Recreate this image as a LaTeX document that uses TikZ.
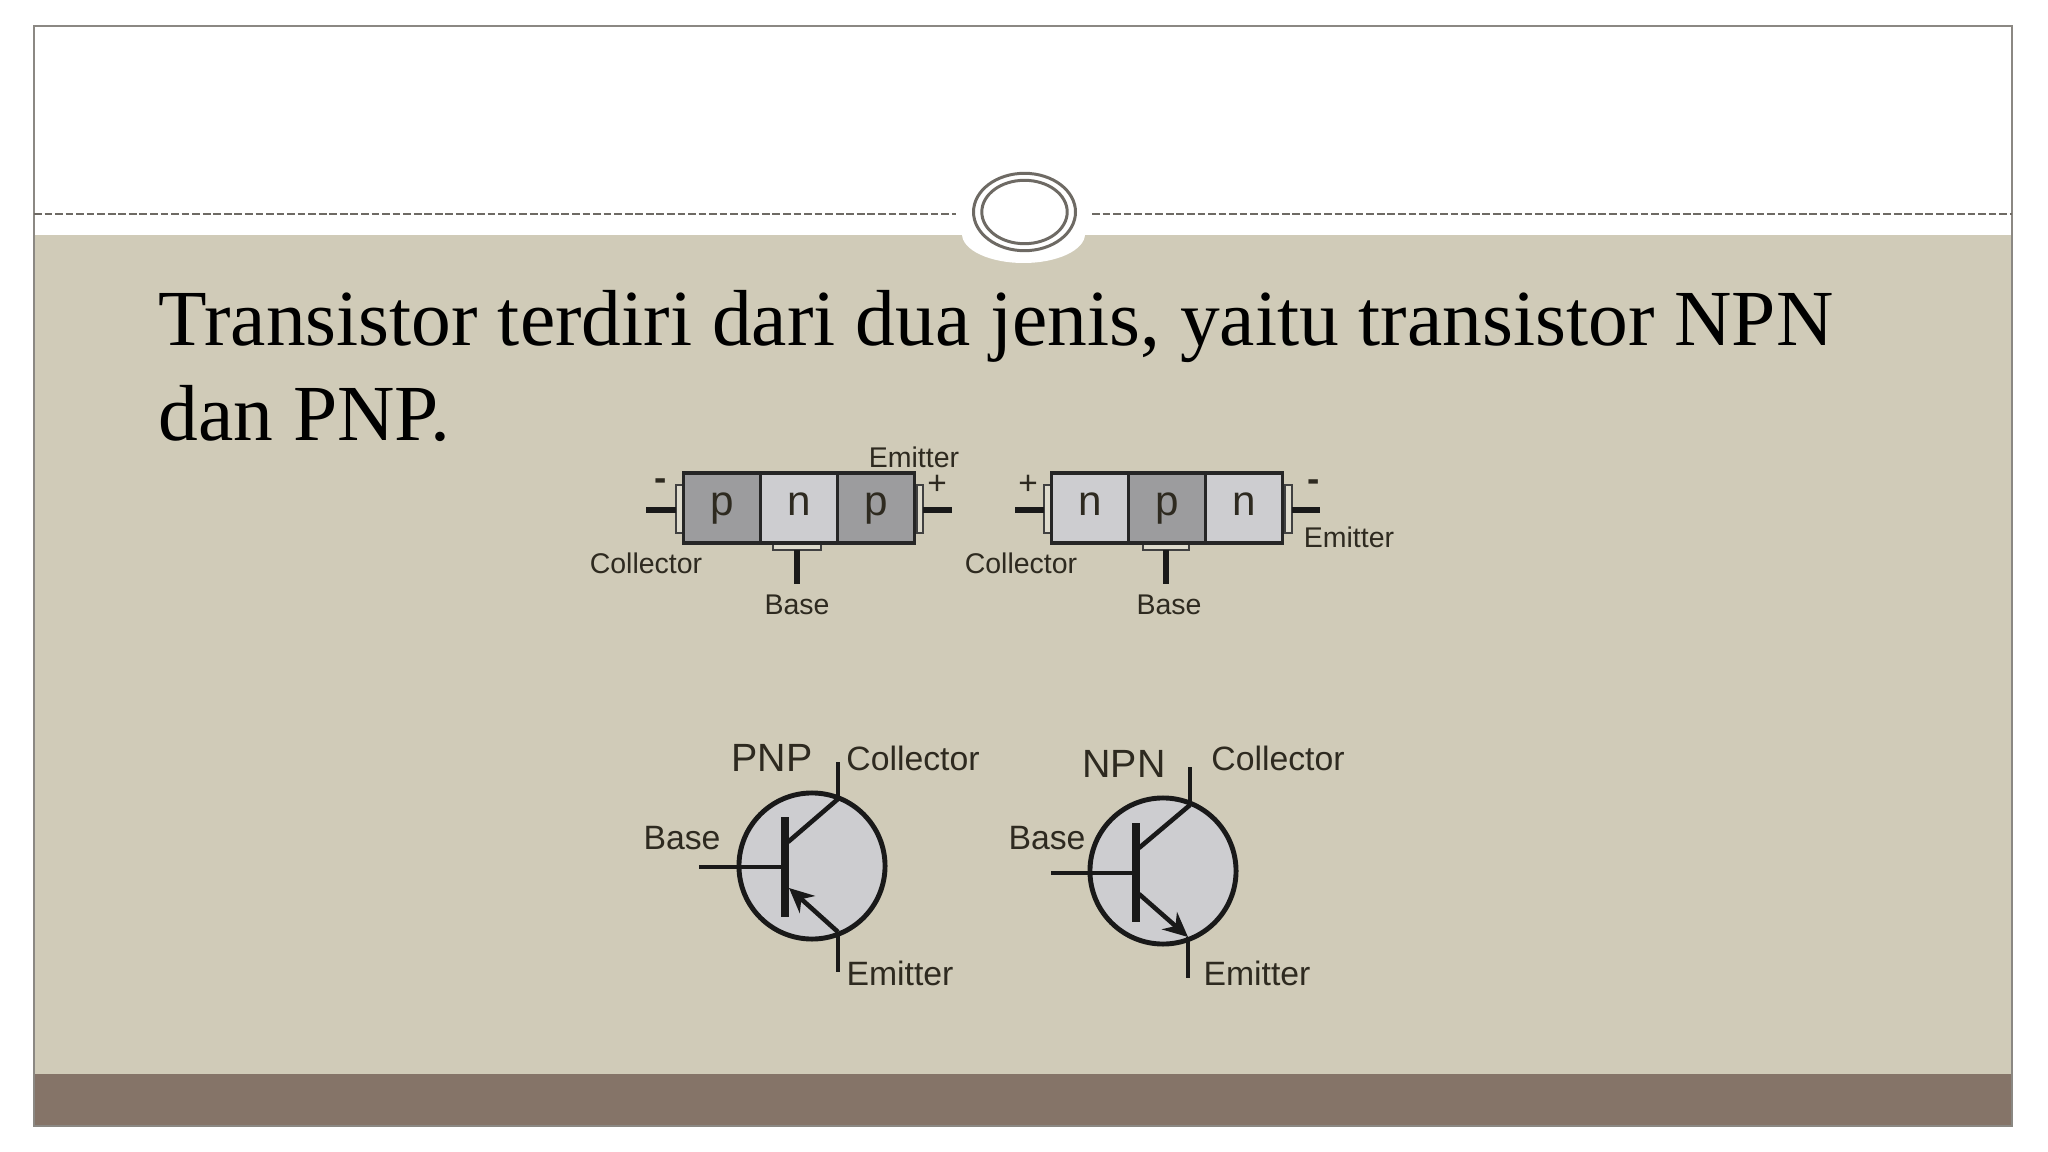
\documentclass[tikz,border=0pt]{standalone}
\usepackage{fontspec}
\setmainfont{Liberation Serif}
\setsansfont{Liberation Sans}
\usetikzlibrary{positioning, arrows.meta}
\definecolor{slidebg}{HTML}{D0CBB8}
\definecolor{slidefoot}{HTML}{857468}
\definecolor{slideline}{HTML}{6E6A64}
\definecolor{dopedark}{HTML}{9C9C9E}
\definecolor{dopelight}{HTML}{CDCDD0}
\definecolor{inktext}{HTML}{2E2A20}

\tikzset{
    segp/.style={draw=black!85, line width=1pt, fill=dopedark, minimum width=0.77cm, minimum height=0.70cm,
        inner sep=0pt, text height=6.3pt, text depth=2.3pt, text=inktext, font=\sffamily\fontsize{12}{13}\selectfont},
    segn/.style={segp, fill=dopelight},
    endcap/.style={draw=black!75, line width=0.8pt, fill=slidebg!70!white},
    lead/.style={line width=1.5pt, black!90},
    wire/.style={line width=1.3pt, black!90},
    bar/.style={line width=2.3pt, black!90},
    lbl/.style={text=inktext, inner sep=0pt, font=\sffamily\fontsize{8.1}{9}\selectfont},
    minuslbl/.style={text=inktext, inner sep=0pt, font=\sffamily\bfseries\fontsize{10.5}{11}\selectfont},
    pluslbl/.style={text=inktext, inner sep=0pt, font=\sffamily\fontsize{9.5}{10}\selectfont},
    biglbl/.style={text=inktext, inner sep=0pt, font=\sffamily\fontsize{9.6}{10}\selectfont},
    namelbl/.style={text=inktext, inner sep=0pt, font=\sffamily\fontsize{11.2}{12}\selectfont},
    disc/.style={circle, draw=black!90, line width=1.4pt, fill=dopelight, minimum size=1.46cm, inner sep=0pt},
    node distance=0.77cm
}

\begin{document}
\begin{tikzpicture}[x=0.01cm, y=-0.01cm]
    \useasboundingbox (0,0) rectangle (2048,1152);

    % slide
    \fill[white] (0,0) rectangle (2048,1152);
    \fill[slidebg] (34,235) rectangle (2012,1074);
    \fill[slidefoot] (34,1074) rectangle (2012,1126);
    \draw[slideline!80, line width=0.5pt] (34,26) rectangle (2012,1126);
    \fill[white] (962,234) arc[start angle=180, end angle=0, x radius=61.5, y radius=29] -- cycle;
    \draw[slideline, line width=0.4pt, dash pattern=on 2.2pt off 0.8pt] (34,214) -- (956,214);
    \draw[slideline, line width=0.4pt, dash pattern=on 2.2pt off 0.8pt] (1092,214) -- (2012,214);
    \draw[slideline, line width=0.85pt] (1024.5,212) ellipse [x radius=51, y radius=38.7];
    \draw[slideline, line width=0.85pt] (1024.5,212) ellipse [x radius=42.7, y radius=31.7];

    \node[anchor=north west, align=left, inner sep=0pt, text=black, font=\fontsize{22.6}{27}\selectfont] (title) at (158,290)
        {Transistor terdiri dari dua jenis, yaitu transistor NPN\\dan PNP.};

    % pnp block
    \draw[endcap] (676,485) rectangle (683,533);
    \draw[endcap] (917,485) rectangle (923,533);
    \draw[endcap] (773,543) rectangle (821,550);
    \node[segp] (a1) at (722,508) {p};
    \node[segn, right of=a1] (a2) {n};
    \node[segp, right of=a2] (a3) {p};
    \coordinate (a1l) at (676,510);
    \coordinate (a1e) at (646,510);
    \coordinate (a3r) at (923,510);
    \coordinate (a3e) at (952,510);
    \coordinate (a2b) at (797,550);
    \coordinate (a2e) at (797,584);
    \draw[lead] (a1l) -- (a1e);
    \draw[lead] (a3r) -- (a3e);
    \draw[lead] (a2b) -- (a2e);
    \node[lbl] (acol) at (646,563) {Collector};
    \node[lbl] (abase) at (797,605) {Base};
    \node[lbl] (aemi) at (914,457) {Emitter};
    \node[minuslbl] (aminus) at (661,485) {-};
    \node[pluslbl] (aplus) at (937,485) {+};

    % npn block
    \draw[endcap] (1044,485) rectangle (1052,533);
    \draw[endcap] (1285,485) rectangle (1292,533);
    \draw[endcap] (1143,543) rectangle (1189,550);
    \node[segn] (b1) at (1090,508) {n};
    \node[segp, right of=b1] (b2) {p};
    \node[segn, right of=b2] (b3) {n};
    \coordinate (b1l) at (1044,510);
    \coordinate (b1e) at (1015,510);
    \coordinate (b3r) at (1292,510);
    \coordinate (b3e) at (1320,510);
    \coordinate (b2b) at (1166,550);
    \coordinate (b2e) at (1166,584);
    \draw[lead] (b1l) -- (b1e);
    \draw[lead] (b3r) -- (b3e);
    \draw[lead] (b2b) -- (b2e);
    \node[lbl] (bcol) at (1021,563) {Collector};
    \node[lbl] (bbase) at (1169,605) {Base};
    \node[lbl] (bemi) at (1349,537) {Emitter};
    \node[pluslbl] (bplus) at (1028,485) {+};
    \node[minuslbl] (bminus) at (1314,486) {-};

    % pnp symbol
    \node[disc] (c) at (812,866) {};
    \coordinate (cb1) at (785,817);
    \coordinate (cb2) at (785,917);
    \coordinate (cbm) at (785,867);
    \coordinate (cbe) at (699,867);
    \coordinate (cc1) at (788,842);
    \coordinate (cc2) at (838,799);
    \coordinate (cc3) at (838,762);
    \coordinate (ce1) at (838,932);
    \coordinate (ce2) at (789,888);
    \coordinate (ce3) at (838,972);
    \draw[bar] (cb1) -- (cb2);
    \draw[wire] (cbe) -- (cbm);
    \draw[wire] (cc1) -- (cc2);
    \draw[wire] (cc2) -- (cc3);
    \draw[wire, -{Stealth[length=7pt, width=6.5pt]}] (ce1) -- (ce2);
    \draw[wire] (ce1) -- (ce3);
    \node[namelbl] (cname) at (772,758) {PNP};
    \node[biglbl] (ccol) at (913,758) {Collector};
    \node[biglbl] (cbase) at (682,838) {Base};
    \node[biglbl] (cemi) at (900,973) {Emitter};

    % npn symbol
    \node[disc] (d) at (1163,871) {};
    \coordinate (db1) at (1136,823);
    \coordinate (db2) at (1136,922);
    \coordinate (dbm) at (1136,873);
    \coordinate (dbe) at (1051,873);
    \coordinate (dc1) at (1139,848);
    \coordinate (dc2) at (1190,805);
    \coordinate (dc3) at (1190,767);
    \coordinate (de1) at (1139,894);
    \coordinate (de2) at (1188,937);
    \coordinate (de3) at (1188,978);
    \draw[bar] (db1) -- (db2);
    \draw[wire] (dbe) -- (dbm);
    \draw[wire] (dc1) -- (dc2);
    \draw[wire] (dc2) -- (dc3);
    \draw[wire, -{Stealth[length=7pt, width=6.5pt]}] (de1) -- (de2);
    \draw[wire] (de2) -- (de3);
    \node[namelbl] (dname) at (1124,764) {NPN};
    \node[biglbl] (dcol) at (1278,758) {Collector};
    \node[biglbl] (dbase) at (1047,838) {Base};
    \node[biglbl] (demi) at (1257,973) {Emitter};
\end{tikzpicture}
\end{document}
